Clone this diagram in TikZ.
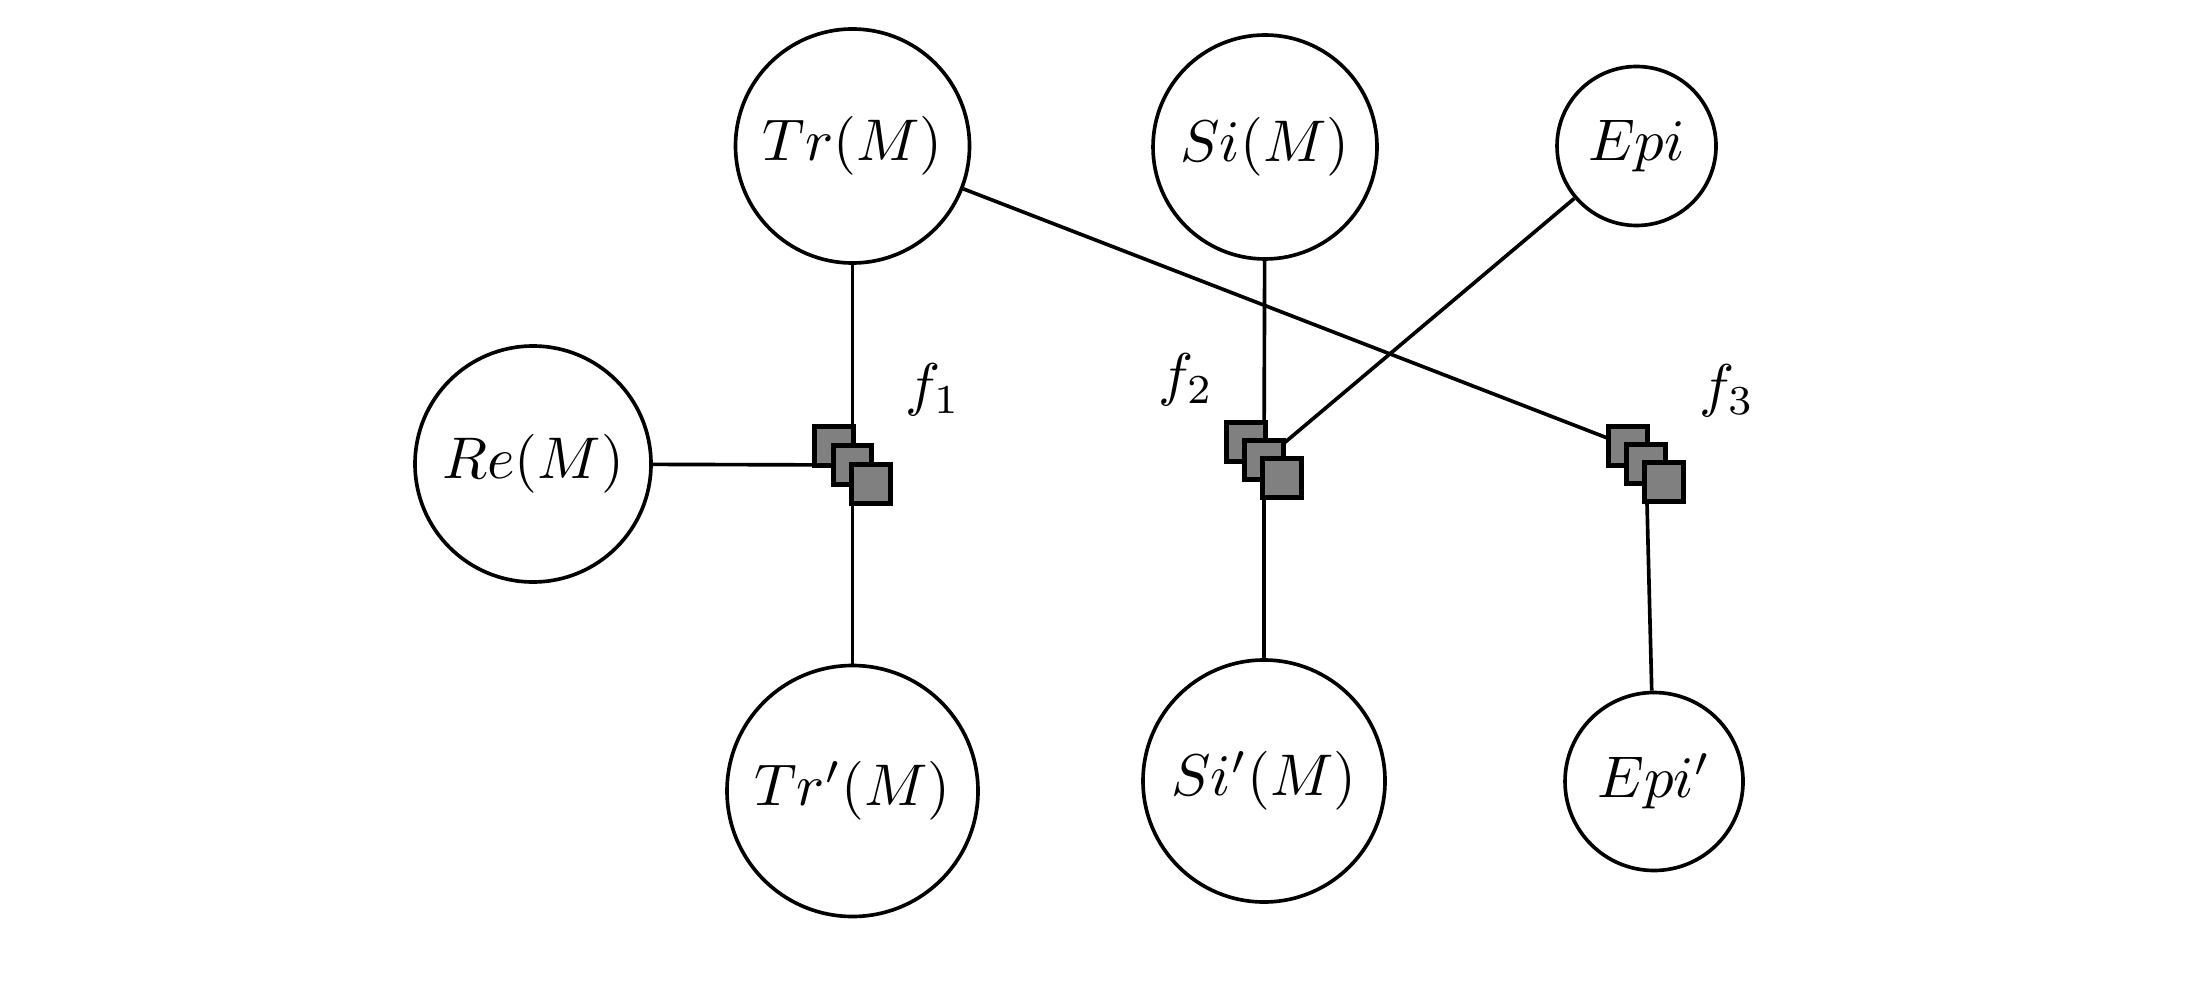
\documentclass[tikz,border=0pt]{standalone}
\usetikzlibrary{backgrounds}
\begin{document}
\begin{tikzpicture}[x=0.170pt,y=-0.170pt,
  var/.style={circle,draw,line width=0.62pt,inner sep=0pt,fill=white},
  fac/.style={rectangle,draw,line width=0.8pt,fill=gray,minimum size=38.5*0.170pt,inner sep=0pt},
  edge/.style={line width=0.62pt},
  flabel/.style={inner sep=0pt}]
\useasboundingbox (0,0) rectangle (2209,1004);
% variable nodes
\node[var,minimum size=234*0.170pt] (tr)   at (852.5,146) {$Tr(M)$};
\node[var,minimum size=224*0.170pt] (si)   at (1265,147)  {$Si(M)$};
\node[var,minimum size=159*0.170pt] (epi)  at (1636.5,146) {$Epi$};
\node[var,minimum size=236*0.170pt] (re)   at (533,464)   {$Re(M)$};
\node[var,minimum size=251*0.170pt] (trp)  at (852.5,791) {$Tr'(M)$};
\node[var,minimum size=242*0.170pt] (sip)  at (1264,781)  {$Si'(M)$};
\node[var,minimum size=178*0.170pt] (epip) at (1654,781.5) {$Epi'$};
% factor nodes
\node[fac] (f1a) at (834,446) {};
\node[fac] (f1)  at (852.5,465) {};
\node[fac] (f1c) at (871,484) {};
\node[fac] (f2a) at (1246,442) {};
\node[fac] (f2)  at (1264,460) {};
\node[fac] (f2c) at (1282,478) {};
\node[fac] (f3a) at (1628,446) {};
\node[fac] (f3)  at (1646,464) {};
\node[fac] (f3c) at (1664,482) {};
% labels
\node[flabel] (l1) at (933,390) {$f_1$};
\node[flabel] (l2) at (1186,380) {$f_2$};
\node[flabel] (l3) at (1727,391) {$f_3$};
% edges
\begin{scope}[on background layer]
\draw[edge] (tr) -- (f1.center);
\draw[edge] (re) -- (f1.center);
\draw[edge] (f1.center) -- (trp);
\draw[edge] (si) -- (f2.center);
\draw[edge] (epi) -- (f2.center);
\draw[edge] (f2.center) -- (sip);
\draw[edge] (tr) -- (f3a.center);
\draw[edge] (f3.center) -- (epip);
\end{scope}
\end{tikzpicture}
\end{document}
